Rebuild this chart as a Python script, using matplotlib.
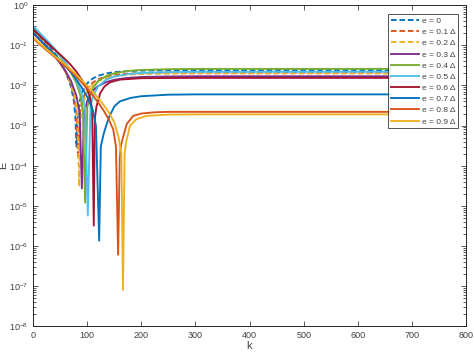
import matplotlib
matplotlib.use("Agg")
import matplotlib.pyplot as plt
from matplotlib.ticker import LogLocator, NullFormatter, MultipleLocator

# error curves E(k) for each perturbation level e
labels = ["e = 0", "e = 0.1 Δ", "e = 0.2 Δ", "e = 0.3 Δ", "e = 0.4 Δ",
          "e = 0.5 Δ", "e = 0.6 Δ", "e = 0.7 Δ", "e = 0.8 Δ", "e = 0.9 Δ"]

k0 = [0, 10, 20, 30, 40, 50, 60, 70, 75, 78, 80, 82, 85, 90, 100, 110, 120, 135, 150, 175, 200, 250, 300, 660]
E0 = [0.30, 0.21, 0.145, 0.098, 0.064, 0.040, 0.022, 0.0093, 0.0043, 0.0017, 3e-4, 0.0014, 0.0035, 0.0067,
      0.0114, 0.0149, 0.0174, 0.0200, 0.0215, 0.0229, 0.0235, 0.0239, 0.024, 0.024]

k1 = [0, 10, 20, 30, 40, 50, 60, 70, 76, 80, 83, 86, 90, 100, 110, 120, 135, 150, 175, 200, 250, 300, 660]
E1 = [0.25, 0.178, 0.125, 0.0865, 0.058, 0.037, 0.0217, 0.0104, 0.0051, 0.0020, 1.5e-4, 0.0019, 0.0040,
      0.0085, 0.0118, 0.0143, 0.0168, 0.0183, 0.0198, 0.0204, 0.0209, 0.021, 0.021]

k2 = [0, 10, 20, 30, 40, 50, 60, 70, 78, 82, 85, 88, 92, 100, 110, 120, 135, 150, 175, 200, 250, 300, 660]
E2 = [0.22, 0.159, 0.114, 0.080, 0.0545, 0.0356, 0.0215, 0.011, 0.0045, 0.0018, 3e-5, 0.0017, 0.0037,
      0.0071, 0.0104, 0.0128, 0.0154, 0.017, 0.0186, 0.0193, 0.0198, 0.020, 0.020]

k3 = [0, 10, 20, 30, 40, 50, 60, 70, 80, 86, 90, 94, 100, 110, 120, 135, 150, 175, 200, 250, 300, 660]
E3 = [0.20, 0.1465, 0.106, 0.0758, 0.053, 0.0357, 0.0227, 0.0129, 0.0055, 0.0020, 2.7e-5, 0.0018, 0.0042,
      0.0074, 0.0097, 0.0122, 0.0139, 0.0155, 0.0163, 0.0168, 0.017, 0.017]

k4 = [0, 10, 20, 30, 40, 50, 60, 70, 80, 88, 92, 96, 100, 105, 110, 120, 135, 150, 175, 200, 250, 300, 660]
E4 = [0.27, 0.20, 0.148, 0.108, 0.077, 0.053, 0.035, 0.021, 0.0115, 0.0052, 0.0025, 1.2e-5, 0.0028,
      0.0058, 0.0085, 0.0128, 0.0172, 0.0202, 0.0230, 0.0244, 0.0255, 0.0259, 0.026]

k5 = [0, 10, 20, 30, 40, 50, 60, 70, 80, 90, 96, 101, 106, 110, 120, 135, 150, 175, 200, 250, 300, 660]
E5 = [0.30, 0.22, 0.16, 0.115, 0.081, 0.056, 0.037, 0.023, 0.0135, 0.0062, 0.0028, 5.7e-6, 0.0030,
      0.0052, 0.0095, 0.0140, 0.0167, 0.0193, 0.0206, 0.0216, 0.0219, 0.022]

k6 = [0, 10, 20, 30, 40, 50, 60, 70, 80, 90, 100, 105, 109, 112, 114, 117, 124, 132, 142, 160, 200, 300, 660]
E6 = [0.25, 0.185, 0.138, 0.104, 0.078, 0.059, 0.044, 0.032, 0.022, 0.0138, 0.0080, 0.0050, 0.0025,
      3.2e-6, 0.0015, 0.0030, 0.0065, 0.0095, 0.0120, 0.0140, 0.0152, 0.0155, 0.0155]

k7 = [0, 10, 20, 30, 40, 50, 60, 70, 80, 90, 100, 110, 116, 122, 125, 130, 135, 140, 150, 160, 180, 200,
      250, 300, 660]
E7 = [0.21, 0.152, 0.110, 0.080, 0.058, 0.042, 0.030, 0.021, 0.014, 0.0088, 0.0052, 0.0025, 0.0010,
      1.35e-6, 0.0003, 0.0006, 0.0010, 0.0016, 0.0030, 0.0040, 0.0049, 0.0054, 0.0059, 0.006, 0.006]

k8 = [0, 10, 20, 30, 40, 50, 60, 70, 80, 90, 100, 110, 120, 130, 140, 148, 153, 157, 160, 162, 165, 173,
      185, 200, 225, 250, 300, 660]
E8 = [0.15, 0.112, 0.086, 0.066, 0.051, 0.039, 0.030, 0.0225, 0.0165, 0.0118, 0.0082, 0.0057, 0.0038,
      0.0024, 0.0014, 0.0008, 0.0003, 6e-7, 0.00015, 0.0003, 0.00045, 0.0011, 0.00175, 0.0020, 0.00215,
      0.0022, 0.0022, 0.0022]

k9 = [0, 10, 20, 30, 40, 50, 60, 70, 80, 90, 100, 110, 120, 130, 140, 150, 158, 163, 166, 169, 172, 179,
      191, 210, 250, 300, 660]
E9 = [0.16, 0.119, 0.091, 0.070, 0.054, 0.042, 0.033, 0.0248, 0.0185, 0.0135, 0.0098, 0.0070, 0.0049,
      0.0033, 0.0021, 0.0012, 0.0005, 0.0002, 8e-8, 0.0002, 0.0004, 0.0010, 0.00145, 0.00175, 0.00188,
      0.0019, 0.0019]

ks = [k0, k1, k2, k3, k4, k5, k6, k7, k8, k9]
Es = [E0, E1, E2, E3, E4, E5, E6, E7, E8, E9]

colors = ["#0072BD", "#D95319", "#EDB120", "#7E2F8E", "#77AC30",
          "#4DBEEE", "#A2142F", "#0072BD", "#D95319", "#EDB120"]
styles = ["--", "--", "--", "-", "-", "-", "-", "-", "-", "-"]

plt.rcParams["font.family"] = ["Liberation Sans", "DejaVu Sans"]
plt.rcParams["mathtext.fontset"] = "custom"
plt.rcParams["mathtext.rm"] = "Liberation Sans"

fig = plt.figure(figsize=(4.74, 3.54), dpi=100)
ax = fig.add_axes([0.070, 0.079, 0.913, 0.906])

for k, E, c, ls, lab in zip(ks, Es, colors, styles, labels):
    ax.semilogy(k, E, color=c, linestyle=ls, linewidth=1.35, label=lab,
                dashes=(3, 1.5) if ls == "--" else (None, None))

ax.set_xlim(0, 800)
ax.set_ylim(1e-8, 1e0)
ax.xaxis.set_major_locator(MultipleLocator(100))
ax.yaxis.set_major_locator(LogLocator(base=10, numticks=20))
ax.yaxis.set_minor_locator(LogLocator(base=10, subs=range(2, 10), numticks=20))
ax.yaxis.set_minor_formatter(NullFormatter())

textc = "#404040"
ax.tick_params(which="both", direction="in", top=True, right=True, colors=textc,
               labelsize=6.5, labelcolor=textc)
ax.tick_params(which="major", length=3.5, width=0.6)
ax.tick_params(which="minor", length=2, width=0.6)
for s in ax.spines.values():
    s.set_color("#262626")
    s.set_linewidth(0.7)

ax.set_xlabel("k", fontsize=8, color=textc, labelpad=1)
ax.set_ylabel("E", fontsize=8, color=textc)
ax.yaxis.set_label_coords(-0.058, 0.5)

leg = ax.legend(loc="upper right", bbox_to_anchor=(0.982, 0.972), fontsize=6.0,
                frameon=True, fancybox=False, handlelength=3.3, handletextpad=0.35,
                labelspacing=0.40, borderpad=0.35, borderaxespad=0)
leg.get_frame().set_edgecolor("#262626")
leg.get_frame().set_linewidth(0.7)
for t in leg.get_texts():
    t.set_color(textc)

fig.savefig("out.png", dpi=100)
